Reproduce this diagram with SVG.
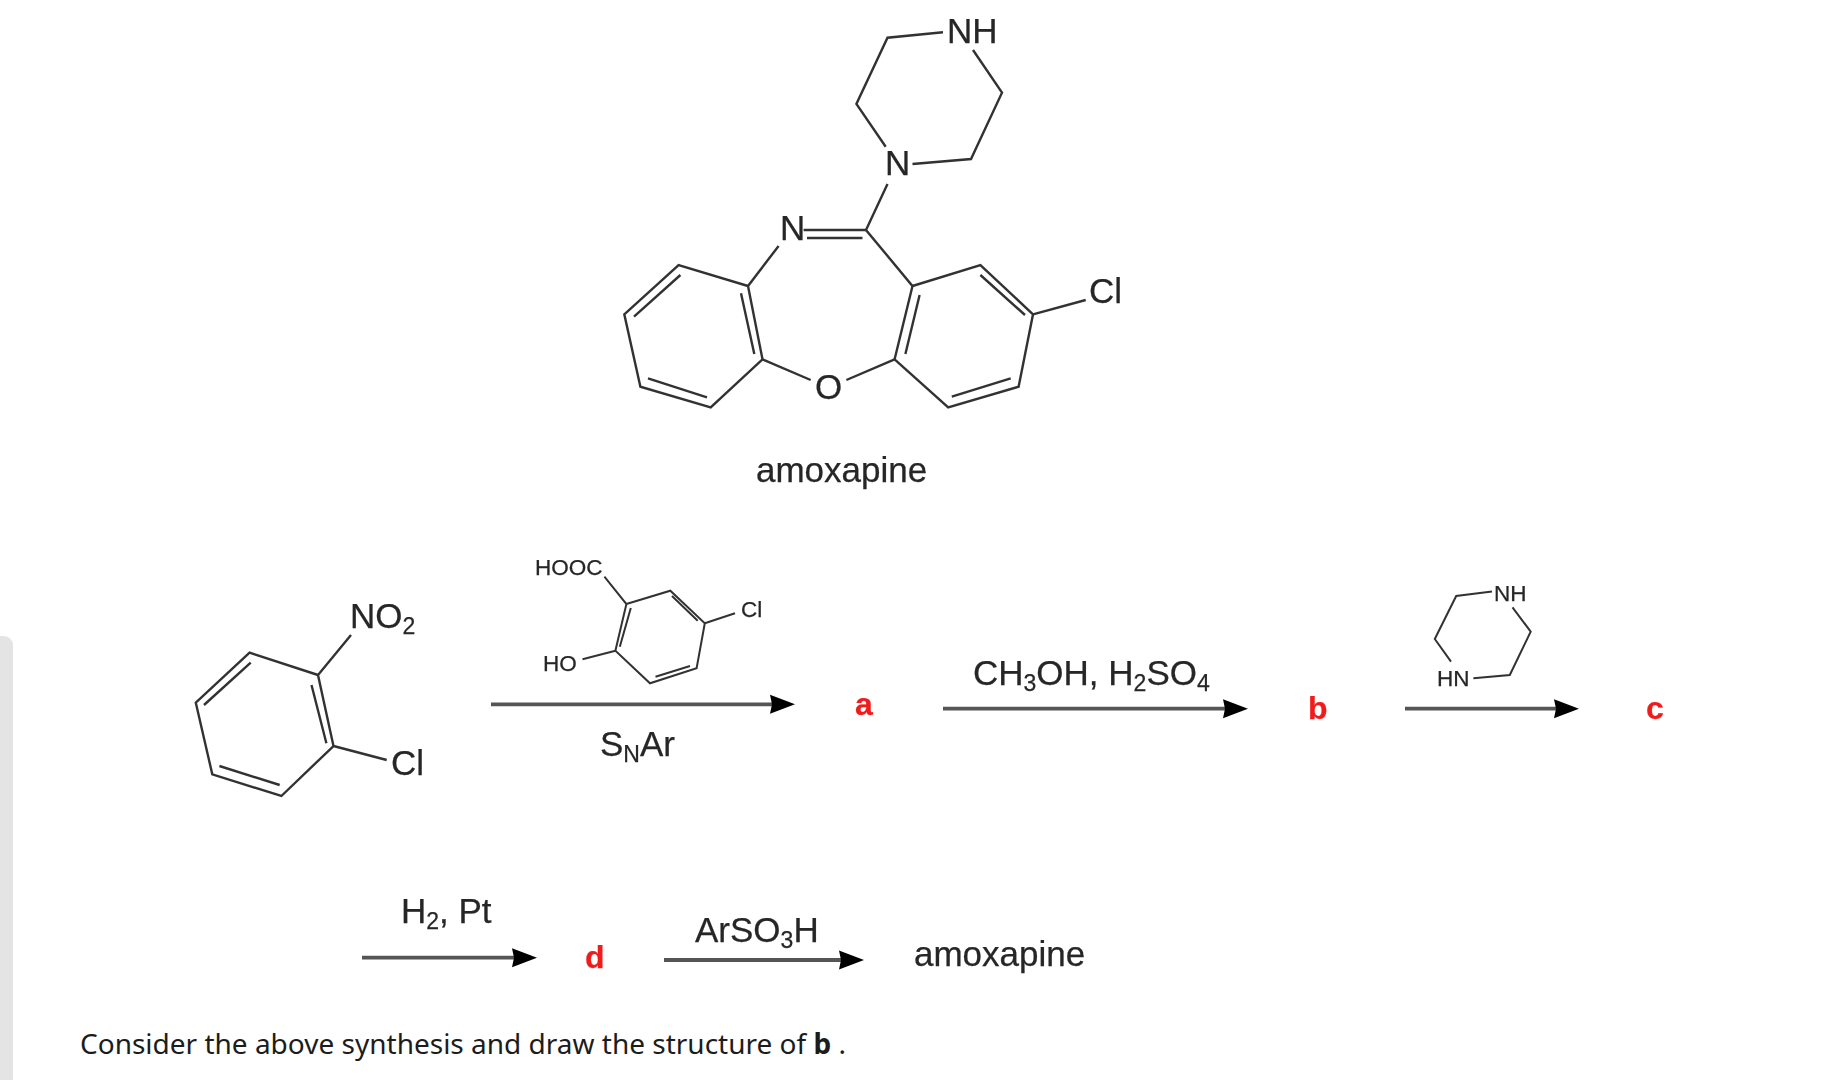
<svg xmlns="http://www.w3.org/2000/svg" width="1840" height="1080" viewBox="0 0 1840 1080">
<defs>
<filter id="soft" x="-5%" y="-5%" width="110%" height="110%"><feGaussianBlur stdDeviation="0.65"/></filter>
<marker id="head" markerUnits="userSpaceOnUse" markerWidth="30" markerHeight="24" viewBox="0 -12 30 24" refX="3" refY="0" orient="auto"><path d="M0,-9.5L25,0L0,9.5L2,0Z" fill="#000"/></marker>
</defs>
<style>
text{font-family:"Liberation Sans",Arial,sans-serif;fill:#262626;stroke:#262626;stroke-width:.25}
.b{fill:none;stroke:#333;stroke-width:2.4;stroke-linejoin:miter}
.s{stroke-width:2}
.t{font-size:35px}
.m{font-size:22.5px}
.sub{font-size:23px}
.r{font-size:32px;font-weight:700;fill:#f01c1c;stroke:#f01c1c}
.a{fill:none;stroke:#555;stroke-width:3.8;marker-end:url(#head)}
.q{font-family:"Noto Sans","Open Sans",sans-serif;font-size:28px;fill:#1c1c1c;stroke:none}
</style>
<rect id="sidebar" x="-10" y="636" width="23" height="460" rx="9" fill="#e4e4e4"/>
<g filter="url(#soft)">
<g id="amoxapine-structure">
<path class="b" d="M943,32.3L887.5,37.7L856.4,104L885.7,146.7M912.5,164L971,159L1002,92.7L973,50"/>
<path class="b" d="M887.5,184L866,230L912.5,286L980.4,265L1033,314.3L1018.6,386.7L948.2,407.3L894.6,359.3L912.5,286"/>
<path class="b" d="M803.6,230H866M807,238H862.5M778.6,246L748,286L678.6,265L624.3,314.3L640.4,386.7L710.7,407.3L762.5,359.3L748,286"/>
<path class="b" d="M680.4,275L634,316.7M648,378.3L707,397.3M741,293.3L754.3,354M762.5,359.3L810.7,380M846.4,380L894.6,359.3M919.6,295L905.4,354M980.4,275L1025,315M951.8,396.7L1010.7,378.3M1033,314.3L1085.7,300"/>
<text class="t" x="947" y="43">NH</text>
<text class="t" x="885" y="175">N</text>
<text class="t" x="780" y="240">N</text>
<text class="t" x="815" y="399">O</text>
<text class="t" x="1089" y="303">Cl</text>
<text class="t" x="756" y="482">amoxapine</text>
</g>
<g id="chloronitrobenzene">
<path class="b" d="M318,675L249.6,652.7L195.8,702.7L212.3,774.3L281.4,796L333.5,746L318,675L351,635M250.7,662.7L204,705M219.4,766L279.7,785M311.5,685L326.4,743.3M333.5,746L386.7,760"/>
<text class="t" x="350" y="628">NO<tspan class="sub" dy="6">2</tspan></text>
<text class="t" x="391" y="775">Cl</text>
</g>
<g id="chlorosalicylic-acid">
<path class="b s" d="M626.4,604L670.3,590.7L704.8,623.3L696.6,668.3L650,683.3L615.4,650.7L626.4,604L604.4,576.7M630.8,608L619.8,646.7M672,596L697.7,620.7M655.5,676.7L690,666M615.4,650.7L582.5,659.3M704.8,623.3L735,613.3"/>
<text class="m" x="535" y="575">HOOC</text>
<text class="m" x="543" y="671">HO</text>
<text class="m" x="741" y="617">Cl</text>
</g>
<g id="piperazine">
<path class="b s" d="M1492,591.5L1456.2,596L1434.8,639L1451,661.7M1512.5,607.3L1530.7,631.7L1509.8,675L1473.4,678.3"/>
<text class="m" x="1494" y="601">NH</text>
<text class="m" x="1437" y="686">HN</text>
</g>
<g id="connectors">
<path class="a" d="M491,704.3H773"/>
<path class="a" d="M943,708.7H1226"/>
<path class="a" d="M1405,708.7H1557"/>
<path class="a" d="M362,957.7H515"/>
<path class="a" d="M664,960H842"/>
</g>
<g id="labels">
<text class="t" x="600" y="756">S<tspan class="sub" dy="6">N</tspan><tspan dy="-6">Ar</tspan></text>
<text class="t" x="973" y="685">CH<tspan class="sub" dy="6">3</tspan><tspan dy="-6">OH, H</tspan><tspan class="sub" dy="6">2</tspan><tspan dy="-6">SO</tspan><tspan class="sub" dy="6">4</tspan></text>
<text class="t" x="401" y="923">H<tspan class="sub" dy="6">2</tspan><tspan dy="-6">, Pt</tspan></text>
<text class="t" x="695" y="942">ArSO<tspan class="sub" dy="6">3</tspan><tspan dy="-6">H</tspan></text>
<text class="t" x="914" y="966">amoxapine</text>
</g>
<g id="a"><text class="r" x="855" y="715">a</text></g>
<g id="b"><text class="r" x="1308" y="719">b</text></g>
<g id="c"><text class="r" x="1646" y="719">c</text></g>
<g id="d"><text class="r" x="585" y="968">d</text></g>
</g>
<text class="q" x="80" y="1054">Consider the above synthesis and draw the structure of <tspan font-weight="700">b</tspan> .</text>
</svg>
